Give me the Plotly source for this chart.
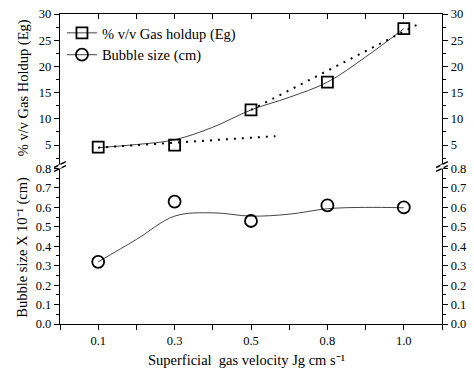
import plotly.graph_objects as go

# ---- data ----
categories = ["0.1", "0.3", "0.5", "0.8", "1.0"]
cat_pos = [1, 2, 3, 4, 5]
gas_holdup = [4.6, 5.0, 11.7, 17.0, 27.2]
bubble_size = [0.32, 0.63, 0.53, 0.61, 0.60]

# smooth fitted curves
fit_pos = [1, 1.5, 2, 2.5, 3, 3.5, 4, 4.5, 5]
holdup_fit = [4.5, 5.1, 6.0, 8.4, 11.7, 14.1, 17.0, 21.8, 27.2]
bubble_fit = [0.32, 0.435, 0.555, 0.572, 0.555, 0.565, 0.593, 0.600, 0.598]

# dotted trend lines on gas holdup
trend1_pos = [1, 3.32]
trend1_val = [4.5, 6.7]
trend2_pos = [3, 5.22]
trend2_val = [11.7, 28.3]

upper_ticks = [5, 10, 15, 20, 25, 30]
lower_ticks = [0.0, 0.1, 0.2, 0.3, 0.4, 0.5, 0.6, 0.7, 0.8]

FONT = "Liberation Serif"
W, H = 474, 374
L, R, T, B = 60, 22, 7, 50
PW, PH = W - L - R, H - T - B


def px_x(px):
    return (px - L) / PW


def px_y(py):
    return (H - B - py) / PH


fig = go.Figure()

# upper panel (gas holdup)
fig.add_trace(go.Scatter(x=fit_pos, y=holdup_fit, mode="lines", xaxis="x", yaxis="y2",
                         line=dict(color="#444", width=1, shape="spline", smoothing=1),
                         showlegend=False, hoverinfo="skip"))
fig.add_trace(go.Scatter(x=trend1_pos, y=trend1_val, mode="lines", xaxis="x", yaxis="y2",
                         line=dict(color="black", width=2, dash="2px,6px"),
                         showlegend=False, hoverinfo="skip"))
fig.add_trace(go.Scatter(x=trend2_pos, y=trend2_val, mode="lines", xaxis="x", yaxis="y2",
                         line=dict(color="black", width=2, dash="2px,6px"),
                         showlegend=False, hoverinfo="skip"))
fig.add_trace(go.Scatter(x=cat_pos, y=gas_holdup, mode="markers", xaxis="x", yaxis="y2",
                         marker=dict(symbol="square-open", size=11, color="black",
                                     line=dict(width=1.8, color="black")),
                         showlegend=False))

# lower panel (bubble size)
fig.add_trace(go.Scatter(x=fit_pos, y=bubble_fit, mode="lines", xaxis="x", yaxis="y",
                         line=dict(color="#444", width=1, shape="spline", smoothing=1),
                         showlegend=False, hoverinfo="skip"))
fig.add_trace(go.Scatter(x=cat_pos, y=bubble_size, mode="markers", xaxis="x", yaxis="y",
                         marker=dict(symbol="circle-open", size=12, color="black",
                                     line=dict(width=1.8, color="black")),
                         showlegend=False))

# legend entries
fig.add_trace(go.Scatter(x=[None], y=[None], mode="lines+markers", xaxis="x", yaxis="y2",
                         name="% v/v Gas holdup (Eg)",
                         line=dict(color="#444", width=1),
                         marker=dict(symbol="square-open", size=11, color="black",
                                     line=dict(width=1.8, color="black"))))
fig.add_trace(go.Scatter(x=[None], y=[None], mode="lines+markers", xaxis="x", yaxis="y",
                         name="Bubble size (cm)",
                         line=dict(color="#444", width=1),
                         marker=dict(symbol="circle-open", size=12, color="black",
                                     line=dict(width=1.8, color="black"))))

# dummy traces for mirrored axes
fig.add_trace(go.Scatter(x=[None], y=[None], xaxis="x2", yaxis="y3", showlegend=False))
fig.add_trace(go.Scatter(x=[None], y=[None], xaxis="x2", yaxis="y4", showlegend=False))

lower_top = px_y(165)
upper_bot = px_y(161)
upper_min = 5 - (161 - 141) / (134 / 25)

tickfont = dict(family=FONT, size=12.5, color="black")
common_y = dict(showline=True, linecolor="black", linewidth=1.3, ticks="outside",
                tickcolor="black", ticklen=5, tickwidth=1.2, showgrid=False, zeroline=False,
                tickfont=tickfont)

fig.update_layout(
    width=W, height=H,
    margin=dict(l=L, r=R, t=T, b=B),
    paper_bgcolor="white", plot_bgcolor="white",
    font=dict(family=FONT, color="black"),
    showlegend=True,
    legend=dict(x=px_x(62), y=1.0 - (3 / PH), xanchor="left", yanchor="top",
                bgcolor="rgba(0,0,0,0)", font=dict(family=FONT, size=14.5, color="black"),
                tracegroupgap=0, itemwidth=30),
    xaxis=dict(domain=[0, 1], anchor="y", range=[0.5, 5.5], tickvals=cat_pos,
               ticktext=categories, showline=True, linecolor="black", linewidth=1.3,
               ticks="outside", ticklen=5, tickwidth=1.2, tickcolor="black",
               minor=dict(dtick=0.5, tick0=0.5, ticks="outside", ticklen=5,
                          tickwidth=1.2, tickcolor="black"),
               showgrid=False, zeroline=False, tickfont=tickfont),
    xaxis2=dict(overlaying="x", anchor="y2", side="top", range=[0.5, 5.5],
                tickvals=cat_pos, showticklabels=False, showline=True, linecolor="black",
                linewidth=1.3, ticks="inside", ticklen=5, tickwidth=1.2, tickcolor="black",
                minor=dict(dtick=0.5, tick0=0.5, ticks="inside", ticklen=5,
                           tickwidth=1.2, tickcolor="black"),
                showgrid=False, zeroline=False),
    yaxis=dict(domain=[0, lower_top], anchor="x", range=[0, 0.8], tickvals=lower_ticks,
               tickformat=".1f",
               minor=dict(dtick=0.05, ticks="outside", ticklen=3, tickwidth=1,
                          tickcolor="black"),
               **common_y),
    yaxis2=dict(domain=[upper_bot, 1], anchor="x", range=[upper_min, 30], tickvals=upper_ticks,
                minor=dict(dtick=2.5, tick0=0, ticks="outside", ticklen=3, tickwidth=1,
                           tickcolor="black"),
                **common_y),
    yaxis3=dict(overlaying="y", side="right", anchor="x2", range=[0, 0.8], tickvals=lower_ticks,
                tickformat=".1f",
                minor=dict(dtick=0.05, ticks="outside", ticklen=3, tickwidth=1,
                           tickcolor="black"),
                **common_y),
    yaxis4=dict(overlaying="y2", side="right", anchor="x2", range=[upper_min, 30],
                tickvals=upper_ticks,
                minor=dict(dtick=2.5, tick0=0, ticks="outside", ticklen=3, tickwidth=1,
                           tickcolor="black"),
                **common_y),
)

# axis titles as annotations
fig.add_annotation(text="% v/v Gas Holdup (Eg)", textangle=-90, xref="paper", yref="paper",
                   x=px_x(22), y=px_y(82), xanchor="center", yanchor="middle", showarrow=False,
                   font=dict(family=FONT, size=14.5, color="black"))
fig.add_annotation(text="Bubble size X 10⁻¹ (cm)", textangle=-90, xref="paper",
                   yref="paper", x=px_x(22), y=px_y(245), xanchor="center", yanchor="middle",
                   showarrow=False, font=dict(family=FONT, size=14.5, color="black"))
fig.add_annotation(text="Superficial  gas velocity Jg cm s⁻¹", xref="paper",
                   yref="paper", x=px_x(251), y=px_y(361), xanchor="center", yanchor="middle",
                   showarrow=False, font=dict(family=FONT, size=14.5, color="black"))

# axis break marks
for cx in (60, 452):
    for dy in (-2, 2):
        fig.add_shape(type="line", xref="paper", yref="paper",
                      x0=px_x(cx - 6), y0=px_y(163 + dy + 3), x1=px_x(cx + 6), y1=px_y(163 + dy - 3),
                      line=dict(color="black", width=1.5))
    fig.add_shape(type="line", xref="paper", yref="paper",
                  x0=px_x(cx), y0=px_y(161), x1=px_x(cx), y1=px_y(165),
                  line=dict(color="white", width=3), layer="above")

fig.write_html("out.html", config={"displayModeBar": False},
               post_script="document.body.style.margin='0';document.body.style.padding='0';")
